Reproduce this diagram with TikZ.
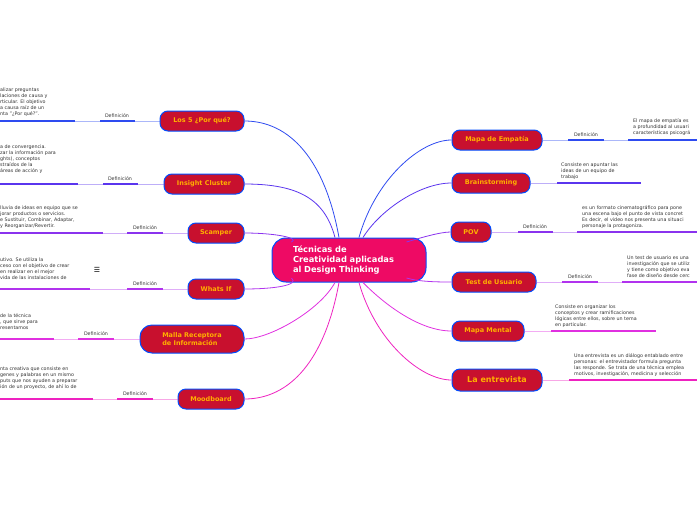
\documentclass[tikz,border=0pt]{standalone}
\usepackage{fontspec}
\setmainfont{DejaVu Sans}
\begin{document}
\begin{tikzpicture}[x=1pt,y=-1pt,
 br/.style={draw=blue!70!cyan,line width=1pt,fill=bcol,rounded corners=8pt,text=ycol,font=\bfseries\fontsize{6.5}{7.5}\selectfont,minimum height=20pt,inner xsep=6pt},
 txt/.style={font=\fontsize{4.8}{6.2}\selectfont,text=black!80,align=left,inner sep=0pt},
 df/.style={font=\fontsize{4.8}{6}\selectfont,text=black!80,inner sep=0pt},
 lt/.style={line width=0.6pt,opacity=0.4},
 tk/.style={line width=1.2pt},
 cn/.style={line width=0.8pt}]
\definecolor{bcol}{HTML}{C8102E}
\definecolor{ycol}{HTML}{FFB000}
\definecolor{ccol}{HTML}{EE0A64}
\definecolor{c1}{HTML}{2E4BF0}
\definecolor{c2}{HTML}{5A35EE}
\definecolor{c3}{HTML}{8A33EE}
\definecolor{c4}{HTML}{B133EE}
\definecolor{c5}{HTML}{E030E0}
\definecolor{c6}{HTML}{EE22C0}
\useasboundingbox (0,0) rectangle (697,520);
\clip (0,0) rectangle (697,520);
\node[draw=blue!70!cyan,line width=1pt,fill=ccol,rounded corners=14pt,minimum width=154pt,minimum height=44pt,text=white,font=\bfseries\fontsize{8.3}{10}\selectfont,align=left,text width=112pt] (c) at (349,260) {Técnicas de\\Creatividad aplicadas\\al Design Thinking};
% left nodes
\node[br,minimum width=84pt] (l1) at (202,121) {Los 5 ¿Por qué?};
\node[br,minimum width=80pt] (l2) at (204,184) {Insight Cluster};
\node[br,minimum width=56pt] (l3) at (216,233) {Scamper};
\node[br,minimum width=56pt] (l4) at (216,289) {Whats If};
\node[br,minimum width=104pt,minimum height=28pt,rounded corners=12pt,align=left] (l5) at (192,339) {Malla Receptora\\de Información};
\node[br,minimum width=66pt] (l6) at (211,399) {Moodboard};
% right nodes
\node[br,minimum width=90pt] (r1) at (497,140) {Mapa de Empatía};
\node[br,minimum width=78pt] (r2) at (491,183) {Brainstorming};
\node[br,minimum width=40pt] (r3) at (471,232) {POV};
\node[br,minimum width=84pt] (r4) at (494,282) {Test de Usuario};
\node[br,minimum width=72pt] (r5) at (488,331) {Mapa Mental};
\node[br,minimum width=90pt,minimum height=22pt,font=\bfseries\fontsize{8}{9}\selectfont] (r6) at (497,380) {La entrevista};
% connectors
\draw[cn,c1] (c.north)++(-10,0) coordinate (s1) (s1) .. controls (325,160) and (290,121) .. (l1.east);
\draw[cn,c2] (c.north)++(-14,0) coordinate (s2) (s2) .. controls (325,200) and (300,184) .. (l2.east);
\draw[cn,c3] (c.west)++(20,-18) coordinate (s3) (s3) .. controls (300,238) and (275,233) .. (l3.east);
\draw[cn,c4] (c.west)++(20,18) coordinate (s4) (s4) .. controls (300,285) and (275,289) .. (l4.east);
\draw[cn,c5] (c.south)++(-14,0) coordinate (s5) (s5) .. controls (320,310) and (270,339) .. (l5.east);
\draw[cn,c6] (c.south)++(-10,0) coordinate (s6) (s6) .. controls (325,360) and (290,399) .. (l6.east);
\draw[cn,c1] (c.north)++(10,0) coordinate (t1) (t1) .. controls (375,180) and (420,140) .. (r1.west);
\draw[cn,c2] (c.north)++(14,0) coordinate (t2) (t2) .. controls (380,210) and (420,183) .. (r2.west);
\draw[cn,c3] (c.east)++(-20,-18) coordinate (t3) (t3) .. controls (420,238) and (440,232) .. (r3.west);
\draw[cn,c4] (c.east)++(-20,18) coordinate (t4) (t4) .. controls (420,282) and (440,282) .. (r4.west);
\draw[cn,c5] (c.south)++(14,0) coordinate (t5) (t5) .. controls (385,305) and (420,331) .. (r5.west);
\draw[cn,c6] (c.south)++(10,0) coordinate (t6) (t6) .. controls (375,340) and (420,380) .. (r6.west);
% left definitions
\draw[lt,c1] (l1.west) -- (0,121); \draw[tk,c1] (100,121)--(135,121) (0,121)--(75,121);
\node[df,anchor=south] (d1) at (117,118) {Definición};
\node[txt,anchor=south west] (x1) at (0,117) {alizar preguntas\\laciones de causa y\\rticular. El objetivo\\a causa raíz de un\\nta "¿Por qué?".};
\draw[lt,c2] (l2.west) -- (0,184); \draw[tk,c2] (103,184)--(138,184) (0,184)--(78,184);
\node[df,anchor=south] (d2) at (120,181) {Definición};
\node[txt,anchor=south west] (x2) at (0,174) {a de convergencia.\\zar la información para\\ghts), conceptos\\straídos de la\\ áreas de acción y};
\draw[lt,c3] (l3.west) -- (0,233); \draw[tk,c3] (127,233)--(163,233) (0,233)--(103,233);
\node[df,anchor=south] (d3) at (145,230) {Definición};
\node[txt,anchor=south west] (x3) at (0,229) {lluvia de ideas en equipo que se\\jorar productos o servicios.\\e Sustituir, Combinar, Adaptar,\\ y Reorganizar/Revertir.};
\draw[lt,c4] (l4.west) -- (0,289); \draw[tk,c4] (127,289)--(163,289) (0,289)--(90,289);
\node[df,anchor=south] (d4) at (145,286) {Definición};
\node[txt,anchor=south west] (x4) at (0,280) {utivo. Se utiliza la\\ceso con el objetivo de crear\\en realizar en el mejor\\ vida de las instalaciones de};
\node[font=\fontsize{7}{7}\selectfont,inner sep=0pt] (ic) at (97,270) {☰};
\draw[lt,c5] (l5.west) -- (0,339); \draw[tk,c5] (78,339)--(114,339) (0,339)--(54,339);
\node[df,anchor=south] (d5) at (96,336) {Definición};
\node[txt,anchor=south west] (x5) at (0,330) { de la técnica\\, que sirve para\\resentamos};
\draw[lt,c6] (l6.west) -- (0,399); \draw[tk,c6] (117,399)--(153,399) (0,399)--(93,399);
\node[df,anchor=south] (d6) at (135,396) {Definición};
\node[txt,anchor=south west] (x6) at (0,390) {nta creativa que consiste en\\genes y palabras en un mismo\\puts que nos ayuden a preparar\\ión de un proyecto, de ahí lo de};
% right definitions
\draw[lt,c1] (r1.east) -- (697,140); \draw[tk,c1] (568,140)--(604,140) (628,140)--(697,140);
\node[df,anchor=south] (e1) at (586,137) {Definición};
\node[txt,anchor=south west] (y1) at (633,136) {El mapa de empatía es\\a profundidad al usuari\\características psicográ};
\draw[lt,c2] (r2.east) -- (557,183); \draw[tk,c2] (557,183)--(641,183);
\node[txt,anchor=south west] (y2) at (561,180) {Consiste en apuntar las\\ideas de un equipo de\\trabajo};
\draw[lt,c3] (r3.east) -- (697,232); \draw[tk,c3] (518,232)--(553,232) (577,232)--(697,232);
\node[df,anchor=south] (e3) at (535,229) {Definición};
\node[txt,anchor=south west] (y3) at (582,229) {es un formato cinematográfico para pone\\una escena bajo el punto de vista concret\\Es decir, el video nos presenta una situaci\\personaje la protagoniza.};
\draw[lt,c4] (r4.east) -- (697,282); \draw[tk,c4] (562,282)--(598,282) (622,282)--(697,282);
\node[df,anchor=south] (e4) at (580,279) {Definición};
\node[txt,anchor=south west] (y4) at (627,278) {Un test de usuario es una\\investigación que se utiliz\\y tiene como objetivo eva\\fase de diseño desde cerc};
\draw[lt,c5] (r5.east) -- (551,331); \draw[tk,c5] (551,331)--(656,331);
\node[txt,anchor=south west] (y5) at (555,328) {Consiste en organizar los\\conceptos y crear ramificaciones\\lógicas entre ellos, sobre un tema\\en particular.};
\draw[lt,c6] (r6.east) -- (569,380); \draw[tk,c6] (569,380)--(697,380);
\node[txt,anchor=south west] (y6) at (574,377) {Una entrevista es un diálogo entablado entre\\personas: el entrevistador formula pregunta\\las responde. Se trata de una técnica emplea\\motivos, investigación, medicina y selección};
\end{tikzpicture}
\end{document}
